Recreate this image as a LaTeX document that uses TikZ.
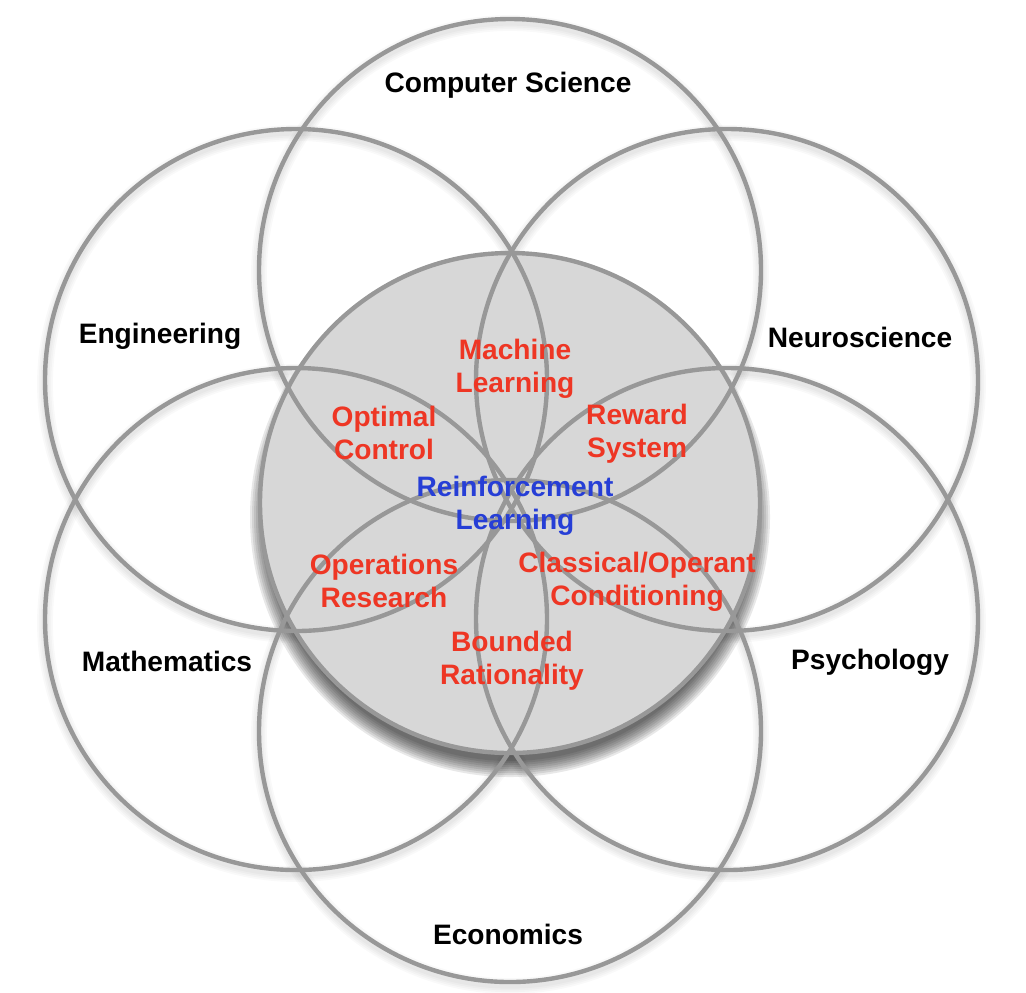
\documentclass[tikz,border=0pt]{standalone}
\usepackage{fontspec}
\setmainfont{Liberation Sans}
\usetikzlibrary{positioning}
\usetikzlibrary{calc}
\definecolor{ringgray}{RGB}{152,152,152}
\definecolor{corefill}{RGB}{215,215,215}
\definecolor{fieldred}{RGB}{238,54,36}
\definecolor{rlblue}{RGB}{38,62,214}
\newcommand{\bigbf}{\fontsize{16}{18.8}\selectfont\bfseries}
\tikzset{
	ring/.style={draw=ringgray, line width=2.5pt},
	ring shadow/.style={draw=black, opacity=.025, line width=#1},
	field/.style={font=\bigbf, align=center, text=black, inner sep=0pt},
	overlap/.style={field, text=fieldred},
	core/.style={field, text=rlblue},
}

\begin{document}
\begin{tikzpicture}[x=0.02cm, y=-0.02cm]
\useasboundingbox (0,0) rectangle (1026,992);
\coordinate (o) at (510,503);
% soft shadows of the outer rings
\foreach \cx/\cy in {510/270, 296/380, 727/380, 296/619, 727/619, 510/731}{
	\foreach \w in {3,5,7,9}
		\draw[ring shadow=\w pt] (\cx,\cy+4) circle[radius=251];
}
% drop shadow of the centre disc
\foreach \k in {0,...,8}
	\fill[black, opacity=.09] ($(o)+(0,14)$) circle[radius=244+2*\k];
\fill[corefill] (o) circle[radius=250];
\foreach \cx/\cy in {510/270, 296/380, 727/380, 296/619, 727/619, 510/731}
	\draw[ring] (\cx,\cy) circle[radius=251];
\draw[ring] (o) circle[radius=250];

\node[field] (cs) at (508,85) {Computer Science};
\node[field] (eng) at (160,336) {Engineering};
\node[field] (neuro) at (860,337) {Neuroscience};
\node[field] (math) at (167,661) {Mathematics};
\node[field] (psy) at (870,662) {Psychology};
\node[field] (econ) at (508,934) {Economics};

\node[overlap] (ml) at (515,369) {Machine\\Learning};
\node[overlap] (oc) at (384,433) {Optimal\\Control};
\node[overlap] (rs) at (637,434) {Reward\\System};
\node[core] (rl) at (515,506) {Reinforcement\\Learning};
\node[overlap] (or) at (384,581) {Operations\\Research};
\node[overlap] (cond) at (637,582) {Classical/Operant\\Conditioning};
\node[overlap] (br) at (512,661) {Bounded\\Rationality};
\end{tikzpicture}
\end{document}
